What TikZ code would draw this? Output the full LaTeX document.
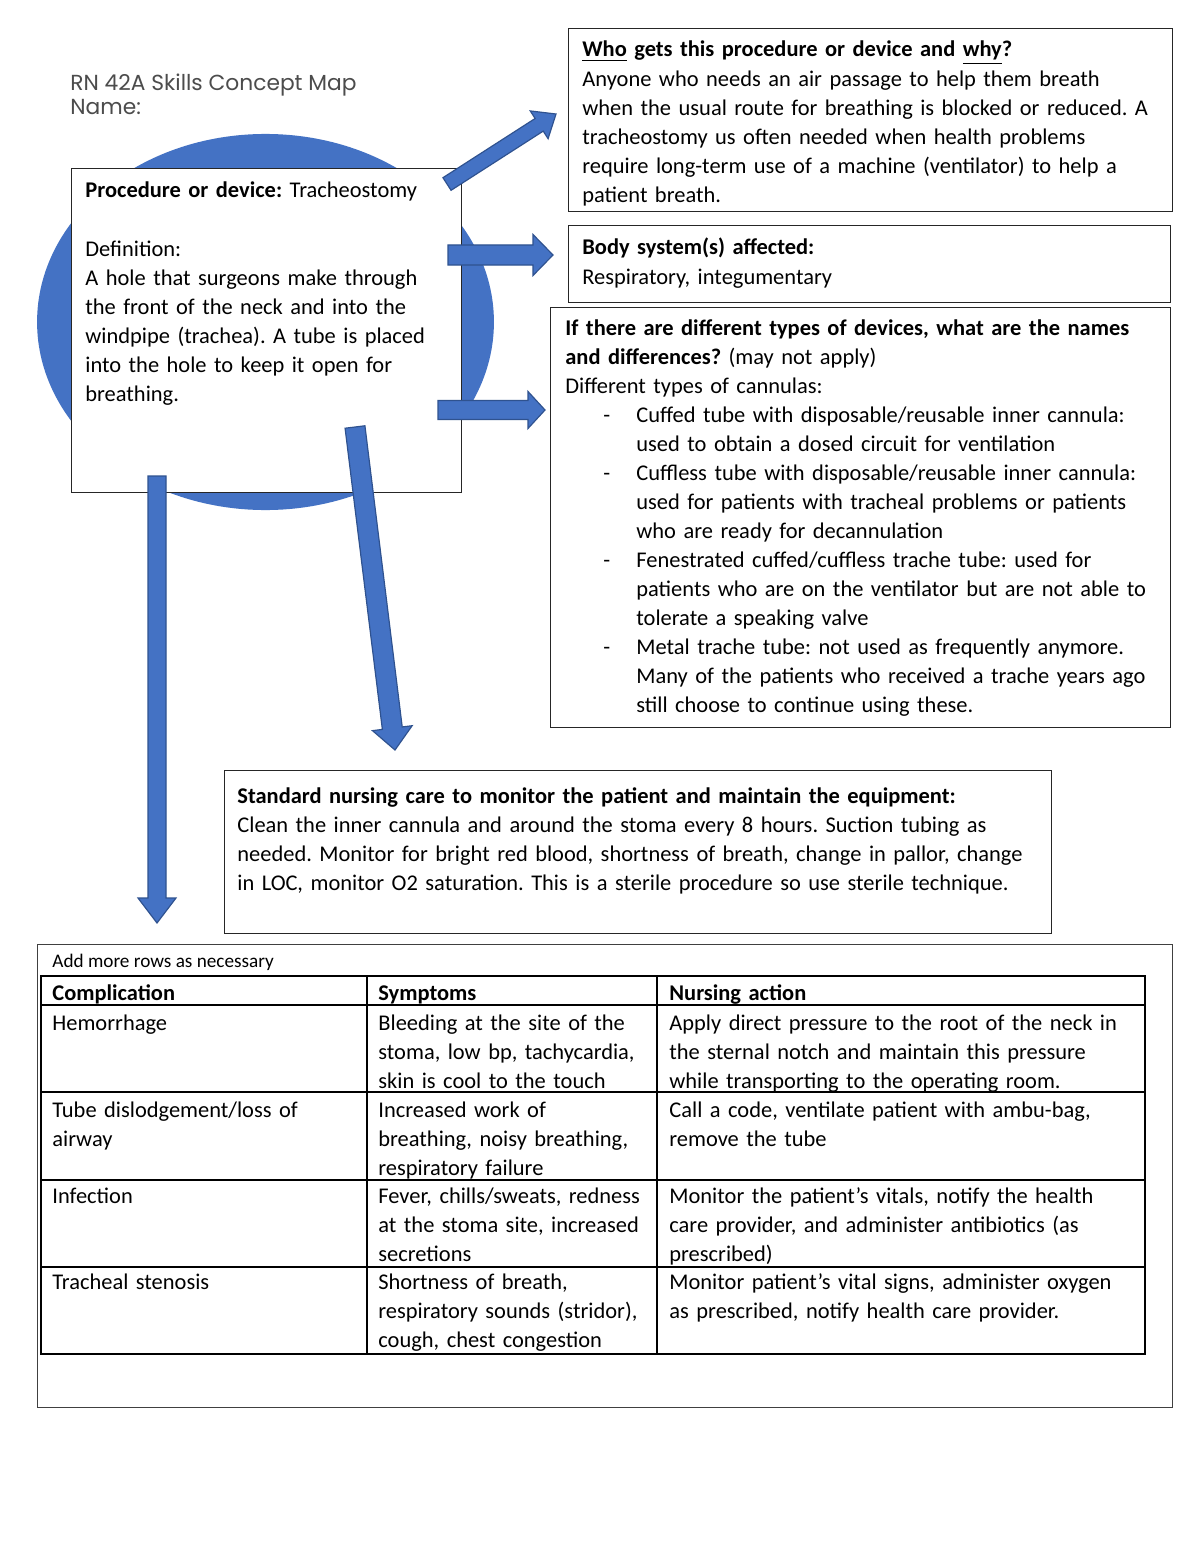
\documentclass[tikz,border=0pt]{standalone}
\usepackage{fontspec}
\setmainfont{Carlito}
\newfontfamily\titlefont{Poppins}
\usetikzlibrary{calc}
\frenchspacing
\newdimen\pxu \pxu=0.51pt
\definecolor{ablue}{HTML}{4472C4}
\definecolor{aedge}{HTML}{2F528F}
\newcommand\bodyfont{\fontsize{11.45pt}{14.8pt}\selectfont\frenchspacing}
\newcommand\smallfnt{\fontsize{9.8pt}{12pt}\selectfont}
\newcommand\itm{\hspace*{38\pxu}\makebox[33\pxu][l]{-}}
\newcommand\cnt{\hspace*{71\pxu}}
\tikzset{
  box/.style={draw=black!85, line width=0.7pt, fill=white},
  txt/.style={anchor=base west, inner sep=0pt, align=left, font=\bodyfont, text width=#1},
  txt/.default=340pt,
  tbl/.style={draw=black, line width=1pt},
  ttl/.style={anchor=base west, inner sep=0pt, font=\titlefont\fontsize{11.1pt}{12pt}\selectfont, text=black!70},
  arrowshape/.style={draw=aedge, fill=ablue, line width=0.6pt, line join=miter},
}
% #1 tail, #2 tip, #3 shaft half, #4 head half, #5 head length (px), #6 name
\newcommand\blockarrow[6]{%
  \coordinate (#6c) at ($(#2)!{#5*0.51pt}!(#1)$);
  \draw[arrowshape] ($(#1)!{#3*0.51pt}!90:(#2)$) -- ($(#6c)!{#3*0.51pt}!90:(#2)$)
    -- ($(#6c)!{#4*0.51pt}!90:(#2)$) -- (#2) -- ($(#6c)!{#4*0.51pt}!-90:(#2)$)
    -- ($(#6c)!{#3*0.51pt}!-90:(#2)$) -- ($(#1)!{#3*0.51pt}!-90:(#2)$) -- cycle;
}
\begin{document}
\begin{tikzpicture}[x=0.51pt,y=-0.51pt]
\useasboundingbox (0,0) rectangle (1200,1553);
\fill[white] (0,0) rectangle (1200,1553);

% title
\node[ttl] (title) at (70,91) {RN 42A Skills Concept Map};
\node[ttl] (name) at (70,115) {Name:};

% circle behind procedure box
\fill[ablue] (265.5,322) ellipse [x radius=116.5pt, y radius=95.9pt];

% boxes
\node[box, anchor=north west, minimum width=390\pxu, minimum height=324\pxu] (proc) at (71,168) {};
\node[box, anchor=north west, minimum width=604\pxu, minimum height=183\pxu] (who) at (568,28) {};
\node[box, anchor=north west, minimum width=602\pxu, minimum height=77\pxu] (body) at (568,225) {};
\node[box, anchor=north west, minimum width=620\pxu, minimum height=420\pxu] (types) at (550,307) {};
\node[box, anchor=north west, minimum width=827\pxu, minimum height=163\pxu] (care) at (224,770) {};
\node[draw=black!75, line width=0.6pt, anchor=north west, minimum width=1135\pxu, minimum height=463\pxu] (frame) at (37,944) {};

% box texts
\node[txt] (proctxt) at (85,198) {\textbf{Procedure or device:} Tracheostomy\\[14.8pt]
Definition:\\
A hole that surgeons make through\\
the front of the neck and into the\\
windpipe (trachea). A tube is placed\\
into the hole to keep it open for\\
breathing.};

\node[txt] (whotxt) at (582,57) {\textbf{\underline{Who} gets this procedure or device and \underline{why}?}\\
Anyone who needs an air passage to help them breath\\
when the usual route for breathing is blocked or reduced. A\\
tracheostomy us often needed when health problems\\
require long-term use of a machine (ventilator) to help a\\
patient breath.};

\node[txt] (bodytxt) at (582,255) {\textbf{Body system(s) affected:}\\
Respiratory, integumentary};

\node[txt] (typestxt) at (565,335) {\textbf{If there are different types of devices, what are the names}\\
\textbf{and differences?} (may not apply)\\
Different types of cannulas:\\
\itm Cuffed tube with disposable/reusable inner cannula:\\
\cnt used to obtain a dosed circuit for ventilation\\
\itm Cuffless tube with disposable/reusable inner cannula:\\
\cnt used for patients with tracheal problems or patients\\
\cnt who are ready for decannulation\\
\itm Fenestrated cuffed/cuffless trache tube: used for\\
\cnt patients who are on the ventilator but are not able to\\
\cnt tolerate a speaking valve\\
\itm Metal trache tube: not used as frequently anymore.\\
\cnt Many of the patients who received a trache years ago\\
\cnt still choose to continue using these.};

\node[txt=460pt] (caretxt) at (237,803) {\textbf{Standard nursing care to monitor the patient and maintain the equipment:}\\
Clean the inner cannula and around the stoma every 8 hours. Suction tubing as\\
needed. Monitor for bright red blood, shortness of breath, change in pallor, change\\
in LOC, monitor O2 saturation. This is a sterile procedure so use sterile technique.};

% arrows
\coordinate (a1t) at (447,184); \coordinate (a1h) at (556,114);
\coordinate (a2t) at (448,255); \coordinate (a2h) at (553,255);
\coordinate (a3t) at (438,410); \coordinate (a3h) at (545,410);
\coordinate (a4t) at (157,476); \coordinate (a4h) at (157,923);
\coordinate (a5t) at (355,427); \coordinate (a5h) at (395,750);
\blockarrow{a1t}{a1h}{7.5}{16.5}{20}{a1}
\blockarrow{a2t}{a2h}{10}{20.5}{20}{a2}
\blockarrow{a3t}{a3h}{9.5}{18.5}{17}{a3}
\blockarrow{a4t}{a4h}{9}{19}{25}{a4}
\blockarrow{a5t}{a5h}{10}{20}{22}{a5}

% table
\node[anchor=base west, inner sep=0pt, font=\smallfnt] (addrows) at (52,967) {Add more rows as necessary};
\draw[tbl] (41,976) rectangle (1145,1354);
\foreach \yy in {1005,1092,1180,1267} \draw[tbl] (41,\yy) -- (1145,\yy);
\foreach \xx in {367,657} \draw[tbl] (\xx,976) -- (\xx,1354);

\node[txt=160pt] (h1) at (52,1000) {\textbf{Complication}};
\node[txt=160pt] (h2) at (378,1000) {\textbf{Symptoms}};
\node[txt=260pt] (h3) at (669,1000) {\textbf{Nursing action}};

\node[txt=165pt] (c11) at (52,1030) {Hemorrhage};
\node[txt=165pt] (c12) at (378,1030) {Bleeding at the site of the\\stoma, low bp, tachycardia,\\skin is cool to the touch};
\node[txt=260pt] (c13) at (669,1030) {Apply direct pressure to the root of the neck in\\the sternal notch and maintain this pressure\\while transporting to the operating room.};

\node[txt=165pt] (c21) at (52,1117) {Tube dislodgement/loss of\\airway};
\node[txt=165pt] (c22) at (378,1117) {Increased work of\\breathing, noisy breathing,\\respiratory failure};
\node[txt=260pt] (c23) at (669,1117) {Call a code, ventilate patient with ambu-bag,\\remove the tube};

\node[txt=165pt] (c31) at (52,1203) {Infection};
\node[txt=165pt] (c32) at (378,1203) {Fever, chills/sweats, redness\\at the stoma site, increased\\secretions};
\node[txt=260pt] (c33) at (669,1203) {Monitor the patient’s vitals, notify the health\\care provider, and administer antibiotics (as\\prescribed)};

\node[txt=165pt] (c41) at (52,1289) {Tracheal stenosis};
\node[txt=165pt] (c42) at (378,1289) {Shortness of breath,\\respiratory sounds (stridor),\\cough, chest congestion};
\node[txt=260pt] (c43) at (669,1289) {Monitor patient’s vital signs, administer oxygen\\as prescribed, notify health care provider.};
\end{tikzpicture}
\end{document}
